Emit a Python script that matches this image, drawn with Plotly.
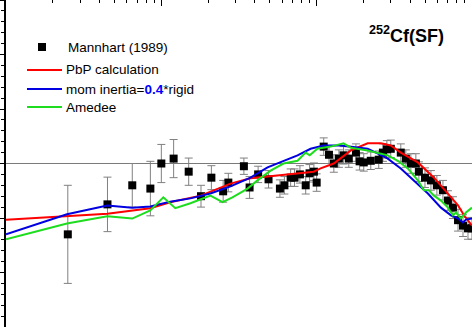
import plotly.graph_objects as go

# Mannhart (1989) evaluated 252Cf(SF) neutron spectrum, ratio to Maxwellian
mann_e = [0.025, 0.045, 0.065, 0.085, 0.100, 0.12, 0.15, 0.18, 0.21, 0.25,
          0.27, 0.34, 0.37, 0.42, 0.49, 0.58, 0.62, 0.68, 0.72, 0.78,
          0.85, 0.90, 0.96, 1.00, 1.11, 1.20, 1.29, 1.39, 1.49, 1.61,
          1.79, 1.89, 2.01, 2.23, 2.51, 2.67, 2.83, 3.00, 3.48, 3.75,
          4.04, 4.35, 4.55, 4.98, 5.44, 5.94, 6.50, 7.00, 7.54, 8.13,
          8.75, 9.42, 10.0]
mann_r = [0.870, 0.925, 0.960, 0.954, 1.000, 1.009, 0.985, 0.940, 0.974, 0.949,
          0.965, 0.995, 0.956, 0.980, 0.971, 0.954, 0.960, 0.974, 0.974, 0.980,
          0.960, 0.982, 0.985, 0.965, 1.031, 1.016, 1.000, 1.009, 1.015, 1.009,
          1.020, 1.004, 1.002, 1.005, 1.007, 1.020, 1.026, 1.027, 1.020, 1.009,
          1.000, 1.000, 0.985, 0.974, 0.969, 0.960, 0.951, 0.932, 0.919, 0.896,
          0.886, 0.881, 0.881]
mann_err = [0.090, 0.050, 0.040, 0.050, 0.035, 0.035, 0.025, 0.020, 0.022, 0.020,
            0.017, 0.015, 0.020, 0.015, 0.016, 0.016, 0.016, 0.016, 0.016, 0.016,
            0.016, 0.016, 0.016, 0.016, 0.016, 0.016, 0.016, 0.016, 0.016, 0.016,
            0.016, 0.016, 0.016, 0.016, 0.016, 0.016, 0.016, 0.016, 0.016, 0.016,
            0.018, 0.018, 0.018, 0.018, 0.018, 0.018, 0.018, 0.018, 0.020, 0.020,
            0.020, 0.020, 0.020]

# Point-by-point calculation
pbp_e = [0.01, 0.0247, 0.0449, 0.0849, 0.114, 0.179, 0.279, 0.375, 0.483, 0.679,
         0.957, 1.06, 1.288, 1.66, 2.13, 2.59, 3.0, 3.48, 4.48, 5.69,
         7.0, 8.13, 8.88, 9.57, 10.0]
pbp_r = [0.897, 0.903, 0.908, 0.918, 0.929, 0.941, 0.963, 0.973, 0.976, 0.980,
         0.985, 0.991, 1.000, 1.024, 1.037, 1.037, 1.033, 1.020, 1.002, 0.974,
         0.945, 0.923, 0.905, 0.894, 0.886]

# Moment of inertia = 0.4 * rigid body value
mom_e = [0.01, 0.0247, 0.0449, 0.065, 0.0849, 0.114, 0.154, 0.207, 0.279, 0.375,
         0.483, 0.612, 0.753, 0.914, 1.109, 1.43, 1.84, 2.13, 2.48, 2.87,
         3.48, 4.23, 5.20, 6.31, 7.32, 8.13, 8.75, 9.14, 10.0]
mom_r = [0.870, 0.907, 0.923, 0.919, 0.921, 0.930, 0.936, 0.945, 0.958, 0.974,
         0.993, 1.005, 1.015, 1.027, 1.033, 1.033, 1.029, 1.027, 1.018, 1.009,
         0.991, 0.969, 0.945, 0.919, 0.905, 0.899, 0.892, 0.897, 0.899]

# Amedee
ame_e = [0.01, 0.0247, 0.0449, 0.065, 0.0849, 0.103, 0.123, 0.154, 0.207, 0.248,
         0.287, 0.359, 0.416, 0.505, 0.612, 0.753, 0.849, 0.902, 1.01, 1.23,
         1.49, 1.66, 2.13, 2.48, 2.87, 3.33, 3.86, 4.48, 4.90, 5.28,
         5.69, 6.31, 7.0, 7.54, 7.89, 8.49, 9.14, 10.0]
ame_r = [0.861, 0.890, 0.903, 0.899, 0.914, 0.938, 0.918, 0.927, 0.941, 0.929,
         0.938, 0.954, 0.969, 0.987, 1.000, 1.005, 1.020, 1.015, 1.027, 1.031,
         1.037, 1.029, 1.024, 1.020, 1.015, 1.005, 0.991, 0.969, 0.951, 0.951,
         0.941, 0.932, 0.919, 0.905, 0.910, 0.899, 0.910, 0.919]

series_names = ["Mannhart (1989)", "PbP calculation",
                "mom inertia=<b><span style='color:#0000FF'>0.4</span></b>*rigid",
                "Amedee"]
line_colors = ["#FF0000", "#0000E0", "#1EDC1E"]

W, H = 474, 327
ML, MR, MT, MB = 6, 2, 0, 0
PW, PH = W - ML - MR, H - MT - MB


def px_x(p):
    """Pixel column -> paper x fraction."""
    return (p - ML) / PW


def px_y(p):
    """Pixel row (from top) -> paper y fraction."""
    return 1 - (p - MT) / PH


fig = go.Figure()

fig.add_trace(go.Scatter(
    x=mann_e, y=mann_r, mode="markers", name=series_names[0],
    marker=dict(symbol="square", size=8, color="black"),
    error_y=dict(type="data", array=mann_err, color="#808080",
                 thickness=1, width=4),
))
for e, r, name, col in zip([pbp_e, mom_e, ame_e], [pbp_r, mom_r, ame_r],
                           series_names[1:], line_colors):
    fig.add_trace(go.Scatter(x=e, y=r, mode="lines", name=name,
                             line=dict(color=col, width=2)))

# reference line at ratio = 1
fig.add_shape(type="line", xref="paper", x0=0, x1=1, yref="y", y0=1.0, y1=1.0,
              line=dict(color="#7a7a7a", width=1), layer="below")

# legend box drawn by hand: marker sample, then three line samples
legend_rows = [47, 70, 89, 107]
fig.add_shape(type="rect", xref="paper", yref="paper",
              x0=px_x(38), x1=px_x(46), y0=px_y(51), y1=px_y(43),
              fillcolor="black", line=dict(width=0))
for row, col in zip(legend_rows[1:], line_colors):
    fig.add_shape(type="line", xref="paper", yref="paper",
                  x0=px_x(27), x1=px_x(62), y0=px_y(row), y1=px_y(row),
                  line=dict(color=col, width=2))
for row, name, xs in zip(legend_rows, series_names, [66, 64, 64, 64]):
    fig.add_annotation(text=name, xref="paper", yref="paper",
                       x=px_x(xs), y=px_y(row), xanchor="left",
                       yanchor="middle", showarrow=False,
                       font=dict(size=13.5, color="black"))

fig.add_annotation(
    text="<b><sup>252</sup>Cf(SF)</b>", xref="paper", yref="paper",
    x=px_x(367), y=px_y(35), xanchor="left", yanchor="middle", showarrow=False,
    font=dict(family="Liberation Sans, Arial", size=18, color="black"),
)

yrange = [0.7, 1.3]
fig.update_layout(
    width=W, height=H,
    margin=dict(l=ML, r=MR, t=MT, b=MB),
    paper_bgcolor="white", plot_bgcolor="white",
    font=dict(family="Liberation Sans, Arial", size=14, color="black"),
    showlegend=False,
    xaxis=dict(type="log", range=[-2, 1], side="top", showline=True,
               linecolor="black", linewidth=1.5, ticks="inside", ticklen=6,
               tickcolor="black", dtick=1, showticklabels=False,
               showgrid=False, zeroline=False,
               minor=dict(ticks="inside", ticklen=3, tickcolor="black",
                          dtick="D1", showgrid=False)),
    yaxis=dict(range=yrange, showline=True, linecolor="black", linewidth=1.5,
               ticks="outside", ticklen=6, tickcolor="black", dtick=0.1,
               showticklabels=False, showgrid=False, zeroline=False,
               minor=dict(ticks="outside", ticklen=3, tickcolor="black",
                          dtick=0.02, showgrid=False)),
    yaxis2=dict(range=yrange, overlaying="y", side="right", anchor="x",
                showline=True, linecolor="#333333", linewidth=2,
                ticks="inside", ticklen=6, tickcolor="black", dtick=0.1,
                showticklabels=False, showgrid=False, zeroline=False,
                minor=dict(ticks="inside", ticklen=3, tickcolor="black",
                           dtick=0.02, showgrid=False)),
)

fig.write_html("out.html")
